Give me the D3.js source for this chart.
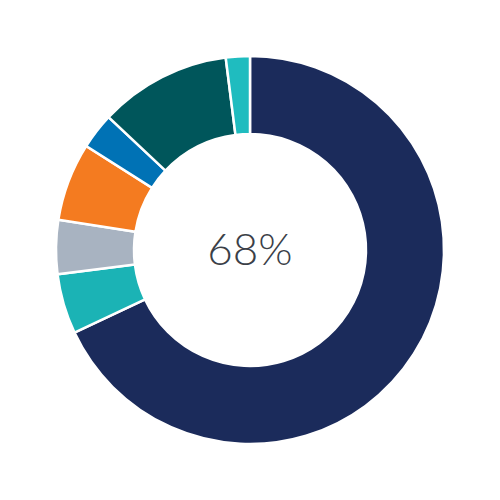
<!DOCTYPE html>
<html><head><meta charset="utf-8">
<script src="https://cdn.jsdelivr.net/npm/d3@7"></script>
<style>body{margin:0;background:#fff}</style></head>
<body><svg id="c" width="500" height="500"></svg>
<script>
const categories = ["A","B","C","D","E","F","G"];
const values = [68, 5, 4.5, 6.5, 3, 11, 2];
const colors = ["#1b2b5b","#1bb3b5","#a8b3c1","#f47b20","#0072b5","#00565b","#1fbcbf"];
const centerLabel = "68%";

const svg = d3.select("#c");
const g = svg.append("g").attr("transform","translate(250,250)");
const pie = d3.pie().sort(null).value(d=>d)(values);
const arc = d3.arc().innerRadius(116).outerRadius(194);
g.selectAll("path").data(pie).join("path")
  .attr("d",arc).attr("fill",(d,i)=>colors[i])
  .attr("stroke","#fff").attr("stroke-width",2.5);
g.append("text").attr("text-anchor","middle").attr("dy","0.35em")
  .attr("font-family","Lato, 'Open Sans', sans-serif").attr("font-weight",300)
  .attr("font-size",44).attr("fill","#3b3f48").text(centerLabel);
</script></body></html>
